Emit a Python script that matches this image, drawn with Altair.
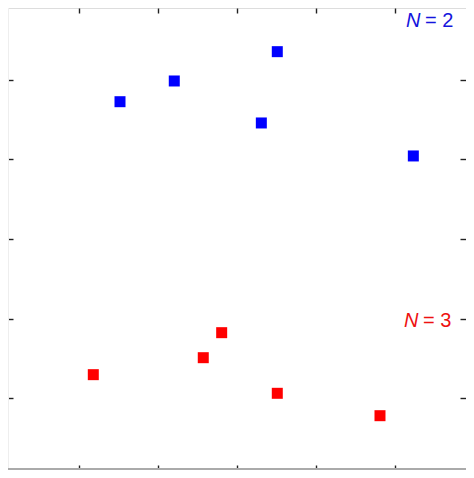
import altair as alt
import pandas as pd

# Data (x in tick units, y in tick units from the bottom)
blue_x = [1.519, 2.206, 3.510, 3.308, 5.232]
blue_y = [4.723, 4.983, 5.351, 4.456, 4.042]
red_x = [1.181, 2.573, 2.806, 3.510, 4.810]
red_y = [1.297, 1.510, 1.824, 1.063, 0.782]
series = ["N = 2", "N = 3"]
colors = ["#0000ff", "#ff0000"]
tick_values = [1, 2, 3, 4, 5]

df = pd.DataFrame({
    "x": blue_x + red_x,
    "y": blue_y + red_y,
    "series": [series[0]] * len(blue_x) + [series[1]] * len(red_x),
})

W, H = 458, 462
x_dom = [0.1013, 5.8987]
y_dom = [0.1004, 5.899]

def ax(orient, size):
    return alt.Axis(orient=orient, values=tick_values, labels=False, domain=False,
                    grid=False, ticks=True, tickSize=size, offset=-size,
                    tickColor="#222222", tickWidth=1.4, title=None)

xs = alt.Scale(domain=x_dom, nice=False, zero=False)
ys = alt.Scale(domain=y_dom, nice=False, zero=False)

points = alt.Chart(df).mark_square(size=121, filled=True, opacity=1).encode(
    x=alt.X("x:Q", scale=xs, axis=ax("top", 5)),
    y=alt.Y("y:Q", scale=ys, axis=ax("left", 5)),
    color=alt.Color("series:N", scale=alt.Scale(domain=series, range=colors), legend=None),
)

ghost = alt.Chart(df).mark_square(size=1, opacity=0).encode(
    x=alt.X("x:Q", scale=xs, axis=ax("bottom", 5)),
    y=alt.Y("y:Q", scale=ys, axis=ax("right", 6)),
)

bottom_line = alt.Chart(pd.DataFrame({"a": [0]})).mark_rule(color="#aaaaaa", strokeWidth=2).encode(
    y=alt.value(H - 1)
)

left_line = alt.Chart(pd.DataFrame({"a": [0]})).mark_rule(color="#eeeeee", strokeWidth=1).encode(
    x=alt.value(0.5)
)

label_font = "Liberation Sans"
def label(txt_n, txt_rest, color, x_n, x_rest, y_base):
    n = alt.Chart(pd.DataFrame({"a": [0]})).mark_text(
        text=txt_n, align="left", baseline="alphabetic", fontStyle="italic",
        font=label_font, fontSize=20, color=color
    ).encode(x=alt.XDatum(x_n, scale=xs, axis=None), y=alt.YDatum(y_base, scale=ys, axis=None))
    rest = alt.Chart(pd.DataFrame({"a": [0]})).mark_text(
        text=txt_rest, align="left", baseline="alphabetic",
        font=label_font, fontSize=20, color=color
    ).encode(x=alt.XDatum(x_rest, scale=xs, axis=None), y=alt.YDatum(y_base, scale=ys, axis=None))
    return n + rest

lab2 = label("N", "= 2", "#1515dd", 5.139, 5.380, 5.661)
lab3 = label("N", "= 3", "#ee1111", 5.114, 5.354, 1.889)

chart = alt.layer(points, ghost, left_line, bottom_line, lab2, lab3).resolve_axis(
    x="independent", y="independent"
).properties(
    width=W, height=H, autosize=alt.AutoSizeParams(type="none"), padding=0
).configure_view(strokeWidth=0).configure(background="white")

chart.save("out.html", embed_options={"renderer": "svg", "actions": False})
